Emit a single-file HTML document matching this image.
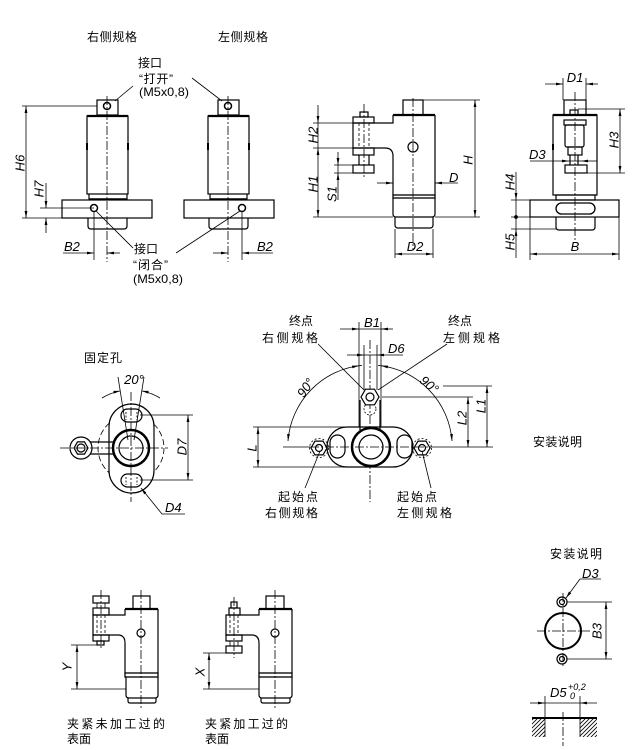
<!DOCTYPE html>
<html><head><meta charset="utf-8">
<style>
html,body{margin:0;padding:0;background:#fff;}
svg{display:block;}
.c{font-family:"Liberation Sans","Noto Sans CJK SC",sans-serif;font-size:12px;fill:#000;stroke:none;}
.l{font-family:"Liberation Sans",sans-serif;font-size:12px;fill:#000;stroke:none;}
.d{font-family:"Liberation Sans",sans-serif;font-style:italic;font-size:13px;fill:#000;stroke:none;}
.s{font-family:"Liberation Sans",sans-serif;font-style:italic;font-size:9px;fill:#000;stroke:none;}
.cl{stroke-dasharray:9 2 2 2;stroke-width:.8;}
.t{stroke-width:.8;}
</style></head><body>
<svg width="637" height="750" viewBox="0 0 637 750" xmlns="http://www.w3.org/2000/svg">
<defs>
<marker id="a" viewBox="0 0 10 10" refX="10" refY="5" markerWidth="7" markerHeight="7" markerUnits="userSpaceOnUse" orient="auto"><path d="M0,3 L10,5 L0,7 z" fill="#000" stroke="none"/></marker>
<pattern id="h" patternUnits="userSpaceOnUse" width="4" height="4"><path d="M-1,1 L1,-1 M0,4 L4,0 M3,5 L5,3" stroke="#000" stroke-width=".8"/></pattern>
</defs>

<!-- ============ TEXT ============ -->
<text class="c" x="87" y="41" textLength="50" lengthAdjust="spacing">右侧规格</text>
<text class="c" x="218" y="41" textLength="50" lengthAdjust="spacing">左侧规格</text>
<text class="c" x="138" y="67">接口</text>
<text class="c" x="139" y="83" textLength="34" lengthAdjust="spacing">“打开”</text>
<text class="l" x="139" y="96" textLength="50" lengthAdjust="spacingAndGlyphs">(M5x0,8)</text>
<text class="c" x="134" y="253">接口</text>
<text class="c" x="133" y="269" textLength="35" lengthAdjust="spacing">“闭合”</text>
<text class="l" x="133" y="283" textLength="50" lengthAdjust="spacingAndGlyphs">(M5x0,8)</text>

<text class="c" x="84" y="362" textLength="38" lengthAdjust="spacing">固定孔</text>
<text class="c" x="289" y="325">终点</text>
<text class="c" x="262" y="342" textLength="56" lengthAdjust="spacing">右侧规格</text>
<text class="c" x="448" y="325">终点</text>
<text class="c" x="443" y="342" textLength="57" lengthAdjust="spacing">左侧规格</text>
<text class="c" x="278" y="501" textLength="40" lengthAdjust="spacing">起始点</text>
<text class="c" x="265" y="517" textLength="53" lengthAdjust="spacing">右侧规格</text>
<text class="c" x="397" y="501" textLength="40" lengthAdjust="spacing">起始点</text>
<text class="c" x="397" y="517" textLength="55" lengthAdjust="spacing">左侧规格</text>
<text class="c" x="533" y="446" textLength="49" lengthAdjust="spacing">安装说明</text>
<text class="c" x="550" y="558" textLength="52" lengthAdjust="spacing">安装说明</text>
<text class="c" x="67" y="728" textLength="98" lengthAdjust="spacing">夹紧未加工过的</text>
<text class="c" x="67" y="743">表面</text>
<text class="c" x="205" y="728" textLength="83" lengthAdjust="spacing">夹紧加工过的</text>
<text class="c" x="205" y="743">表面</text>

<!-- dimension labels -->
<text class="d" text-anchor="middle" x="20" y="167.5" transform="rotate(-90 20 163)">H6</text>
<text class="d" text-anchor="middle" x="39" y="193.5" transform="rotate(-90 39 189)">H7</text>
<text class="d" x="64" y="251">B2</text>
<text class="d" x="257" y="251">B2</text>
<text class="d" text-anchor="middle" x="313" y="139.5" transform="rotate(-90 313 135)">H2</text>
<text class="d" text-anchor="middle" x="313" y="188.5" transform="rotate(-90 313 184)">H1</text>
<text class="d" text-anchor="middle" x="332" y="198.5" transform="rotate(-90 332 194)">S1</text>
<text class="d" text-anchor="middle" x="468" y="164.5" transform="rotate(-90 468 160)">H</text>
<text class="d" x="449" y="182">D</text>
<text class="d" text-anchor="middle" x="415" y="251">D2</text>
<text class="d" text-anchor="middle" x="575" y="82">D1</text>
<text class="d" x="529" y="159">D3</text>
<text class="d" text-anchor="middle" x="614" y="144.5" transform="rotate(-90 614 140)">H3</text>
<text class="d" text-anchor="middle" x="510" y="186.5" transform="rotate(-90 510 182)">H4</text>
<text class="d" text-anchor="middle" x="510" y="246.5" transform="rotate(-90 510 242)">H5</text>
<text class="d" text-anchor="middle" x="575" y="251">B</text>
<text class="d" text-anchor="middle" x="134" y="384">20°</text>
<text class="d" text-anchor="middle" x="182" y="451.5" transform="rotate(-90 182 447)">D7</text>
<text class="d" x="165" y="512">D4</text>
<text class="d" text-anchor="middle" x="372" y="327">B1</text>
<text class="d" x="388" y="353">D6</text>
<text class="d" text-anchor="middle" x="306" y="392" transform="rotate(-55 306 388)">90°</text>
<text class="d" text-anchor="middle" x="429" y="389" transform="rotate(40 429 385)">90°</text>
<text class="d" text-anchor="middle" x="252" y="452.5" transform="rotate(-90 252 448)">L</text>
<text class="d" text-anchor="middle" x="462" y="422.5" transform="rotate(-90 462 418)">L2</text>
<text class="d" text-anchor="middle" x="481" y="410.5" transform="rotate(-90 481 406)">L1</text>
<text class="d" text-anchor="middle" x="67" y="671.5" transform="rotate(-90 67 667)">Y</text>
<text class="d" text-anchor="middle" x="200" y="676.5" transform="rotate(-90 200 672)">X</text>
<text class="d" x="582" y="578">D3</text>
<text class="d" text-anchor="middle" x="597" y="635.5" transform="rotate(-90 597 631)">B3</text>
<text class="d" x="550" y="697">D5</text>
<text class="s" x="568" y="690">+0,2</text>
<text class="s" x="570" y="699">0</text>

<g fill="none" stroke="#000" stroke-width="1.2">
<!-- ============ TOP LEFT (right version) ============ -->
<rect x="97" y="100" width="21" height="15"/>
<circle cx="107" cy="106" r="3.5" stroke-width="1.5"/>
<rect x="87" y="116" width="41" height="78"/>
<line x1="87" y1="116" x2="128" y2="116" stroke-width="2.2"/>
<path d="M87 143v7M128 143v7" stroke-width="2"/>
<path d="M89 194v6M127 194v6"/>
<line x1="89" y1="199" x2="127" y2="199" stroke-width="1.5"/>
<rect x="62" y="200" width="90" height="18"/>
<circle cx="94" cy="208" r="3.5" stroke-width="1.5"/>
<path d="M88 218V226q0 3 3 3H124q3 0 3-3V218"/>
<line class="cl" x1="107" y1="96" x2="107" y2="262"/>
<line class="t" x1="22" y1="106" x2="97" y2="106"/>
<line class="t" x1="22" y1="218" x2="62" y2="218"/>
<line class="t" x1="26" y1="162" x2="26" y2="106" marker-end="url(#a)"/>
<line class="t" x1="26" y1="162" x2="26" y2="218" marker-end="url(#a)"/>
<line class="t" x1="40" y1="208" x2="94" y2="208"/>
<line class="t" x1="46" y1="183" x2="46" y2="208" marker-end="url(#a)"/>
<line class="t" x1="46" y1="233" x2="46" y2="218" marker-end="url(#a)"/>
<line class="t" x1="94" y1="212" x2="94" y2="260"/>
<line class="t" x1="63" y1="253" x2="94" y2="253" marker-end="url(#a)"/>
<line class="t" x1="120" y1="253" x2="107" y2="253" marker-end="url(#a)"/>
<path class="t" d="M115 101L133 86M96 211L133 248"/>

<!-- ============ TOP (left version) ============ -->
<rect x="218" y="100" width="21" height="15"/>
<circle cx="228" cy="106" r="3.5" stroke-width="1.5"/>
<rect x="208" y="116" width="41" height="78"/>
<line x1="208" y1="116" x2="249" y2="116" stroke-width="2.2"/>
<path d="M208 143v7M249 143v7" stroke-width="2"/>
<path d="M210 194v6M247 194v6"/>
<line x1="210" y1="199" x2="247" y2="199" stroke-width="1.5"/>
<rect x="184" y="200" width="90" height="18"/>
<circle cx="242" cy="208" r="3.5" stroke-width="1.5"/>
<path d="M209 218V226q0 3 3 3H245q3 0 3-3V218"/>
<line class="cl" x1="228" y1="96" x2="228" y2="262"/>
<line class="t" x1="242" y1="212" x2="242" y2="260"/>
<line class="t" x1="213" y1="253" x2="228" y2="253" marker-end="url(#a)"/>
<line class="t" x1="273" y1="253" x2="242" y2="253" marker-end="url(#a)"/>
<path class="t" d="M192 78L222 101M240 211L176 253"/>

<!-- ============ TOP MIDDLE (side view) ============ -->
<rect x="403" y="100" width="20" height="15"/>
<line x1="393" y1="115" x2="435" y2="115" stroke-width="2.2"/>
<path d="M393 115V123H353V148H385Q393 148 393 156V195"/>
<path d="M435 115V195"/>
<rect x="353" y="117" width="21" height="6"/>
<rect x="360" y="112" width="8" height="5"/>
<rect x="353" y="148" width="21" height="7"/>
<path d="M359 155V165M369 155V165"/>
<rect x="353" y="165" width="21" height="8"/>
<path class="t" d="M359 123V148M369 123V148" stroke-dasharray="3 2"/>
<line class="cl" x1="364" y1="104" x2="364" y2="178"/>
<circle cx="413" cy="147" r="5"/>
<rect x="393" y="195" width="42" height="3" stroke-width="1.3"/>
<path d="M393 198V214q0 3 3 3H432q3 0 3-3V198"/>
<path d="M395 217V225q0 3 3 3H430q3 0 3-3V217"/>
<line class="cl" x1="413" y1="98" x2="413" y2="250"/>
<line class="t" x1="423" y1="100" x2="480" y2="100"/>
<line class="t" x1="435" y1="217" x2="480" y2="217"/>
<line class="t" x1="475" y1="158" x2="475" y2="100" marker-end="url(#a)"/>
<line class="t" x1="475" y1="158" x2="475" y2="217" marker-end="url(#a)"/>
<line class="t" x1="313" y1="123" x2="353" y2="123"/>
<line class="t" x1="313" y1="148" x2="353" y2="148"/>
<line class="t" x1="313" y1="217" x2="393" y2="217"/>
<line class="t" x1="318" y1="105" x2="318" y2="123" marker-end="url(#a)"/>
<line class="t" x1="318" y1="123" x2="318" y2="148"/>
<line class="t" x1="318" y1="185" x2="318" y2="148" marker-end="url(#a)"/>
<line class="t" x1="318" y1="185" x2="318" y2="217" marker-end="url(#a)"/>
<line class="t" x1="334" y1="165" x2="353" y2="165"/>
<line class="t" x1="334" y1="173" x2="353" y2="173"/>
<line class="t" x1="338" y1="152" x2="338" y2="165" marker-end="url(#a)"/>
<line class="t" x1="338" y1="165" x2="338" y2="173"/>
<line class="t" x1="338" y1="200" x2="338" y2="173" marker-end="url(#a)"/>
<line class="t" x1="377" y1="183" x2="393" y2="183" marker-end="url(#a)"/>
<line class="t" x1="458" y1="183" x2="435" y2="183" marker-end="url(#a)"/>
<line class="t" x1="395" y1="229" x2="395" y2="258"/>
<line class="t" x1="433" y1="229" x2="433" y2="258"/>
<line class="t" x1="414" y1="254" x2="395" y2="254" marker-end="url(#a)"/>
<line class="t" x1="414" y1="254" x2="433" y2="254" marker-end="url(#a)"/>

<!-- ============ TOP RIGHT (front view) ============ -->
<line class="t" x1="563" y1="78" x2="563" y2="100"/>
<line class="t" x1="586" y1="78" x2="586" y2="100"/>
<line class="t" x1="545" y1="84" x2="563" y2="84" marker-end="url(#a)"/>
<line class="t" x1="598" y1="84" x2="586" y2="84" marker-end="url(#a)"/>
<rect x="564" y="100" width="22" height="15"/>
<rect x="553" y="115" width="44" height="80"/>
<line x1="553" y1="115" x2="597" y2="115" stroke-width="2.2"/>
<rect x="570" y="110" width="8" height="5"/>
<rect x="564" y="120" width="22" height="5"/>
<rect x="565" y="125" width="19" height="22" rx="2"/>
<rect x="568" y="147" width="14" height="8"/>
<path d="M570 155V165M578 155V165"/>
<rect x="565" y="165" width="22" height="8"/>
<path d="M553 144v6" stroke-width="2"/>
<line class="cl" x1="575" y1="92" x2="575" y2="242"/>
<line class="t" x1="578" y1="109" x2="625" y2="109"/>
<line class="t" x1="587" y1="173" x2="625" y2="173"/>
<line class="t" x1="620" y1="141" x2="620" y2="109" marker-end="url(#a)"/>
<line class="t" x1="620" y1="141" x2="620" y2="173" marker-end="url(#a)"/>
<line class="t" x1="530" y1="161" x2="569" y2="161" marker-end="url(#a)"/>
<line class="t" x1="569" y1="161" x2="581" y2="161"/>
<line class="t" x1="597" y1="161" x2="581" y2="161" marker-end="url(#a)"/>
<rect x="556" y="195" width="39" height="5"/>
<rect x="530" y="200" width="89" height="17"/>
<rect x="556" y="203" width="39" height="11" rx="5.5" stroke-width="1.3"/>
<path d="M556 217V227q0 3 3 3H592q3 0 3-3V217"/>
<line class="t" x1="511" y1="200" x2="530" y2="200"/>
<line class="t" x1="511" y1="217" x2="530" y2="217"/>
<line class="t" x1="511" y1="229" x2="556" y2="229"/>
<line class="t" x1="516" y1="172" x2="516" y2="200" marker-end="url(#a)"/>
<line class="t" x1="516" y1="200" x2="516" y2="229"/>
<line class="t" x1="516" y1="258" x2="516" y2="229" marker-end="url(#a)"/>
<circle cx="516" cy="217" r="1.3" fill="#000"/>
<line class="t" x1="530" y1="217" x2="530" y2="260"/>
<line class="t" x1="619" y1="217" x2="619" y2="260"/>
<line class="t" x1="575" y1="254" x2="530" y2="254" marker-end="url(#a)"/>
<line class="t" x1="575" y1="254" x2="619" y2="254" marker-end="url(#a)"/>

<!-- ============ MIDDLE LEFT (fixing holes) ============ -->
<circle class="t" cx="131" cy="448" r="33" stroke-dasharray="6 3"/>
<rect x="109" y="404" width="45" height="89" rx="22.5" fill="#fff"/>
<rect x="121" y="409" width="21" height="13" rx="6.5"/>
<rect x="121" y="474" width="21" height="13" rx="6.5"/>
<path class="t" d="M126 412V420M137 412V420M126 477V485M137 477V485" stroke-dasharray="2 1.5"/>
<circle cx="131" cy="448" r="18" stroke-width="2.5"/>
<circle cx="131" cy="448" r="12"/>
<path d="M90 442H113M90 454H113"/>
<circle cx="81" cy="448" r="11"/>
<polygon points="88,448 84.5,441.9 77.5,441.9 74,448 77.5,454.1 84.5,454.1"/>
<circle cx="81" cy="448" r="4"/>
<line class="cl" x1="60" y1="448" x2="168" y2="448"/>
<line class="cl" x1="131" y1="392" x2="131" y2="502"/>
<path class="t" d="M128 440L118 377M134 440L144 377"/>
<path class="t" d="M102 398 A58 58 0 0 1 120.4 390.9" marker-end="url(#a)"/>
<path class="t" d="M160 398 A58 58 0 0 0 141.6 390.9" marker-end="url(#a)"/>
<line class="t" x1="140" y1="415" x2="193" y2="415"/>
<line class="t" x1="140" y1="480" x2="193" y2="480"/>
<line class="t" x1="188" y1="447" x2="188" y2="415" marker-end="url(#a)"/>
<line class="t" x1="188" y1="447" x2="188" y2="480" marker-end="url(#a)"/>
<path class="t" d="M185 514H162L141 488" marker-end="url(#a)"/>

<!-- ============ MIDDLE CENTER ============ -->
<line class="t" x1="359" y1="322" x2="359" y2="432"/>
<line class="t" x1="381" y1="322" x2="381" y2="432"/>
<line class="t" x1="340" y1="329" x2="359" y2="329" marker-end="url(#a)"/>
<line class="t" x1="359" y1="329" x2="381" y2="329"/>
<line class="t" x1="393" y1="329" x2="381" y2="329" marker-end="url(#a)"/>
<line class="t" x1="364" y1="345" x2="364" y2="390"/>
<line class="t" x1="377" y1="345" x2="377" y2="390"/>
<line class="t" x1="347" y1="355" x2="364" y2="355" marker-end="url(#a)"/>
<line class="t" x1="364" y1="355" x2="377" y2="355"/>
<line class="t" x1="403" y1="355" x2="377" y2="355" marker-end="url(#a)"/>
<line class="cl" x1="370" y1="340" x2="370" y2="502"/>
<!-- arcs -->
<path class="t" d="M362 365.4 A82 82 0 0 0 288 441" marker-end="url(#a)"/>
<path class="t" d="M378 365.4 A82 82 0 0 1 452 441" marker-end="url(#a)"/>
<line class="t" x1="352" y1="367" x2="359" y2="365.6" marker-end="url(#a)"/>
<line class="t" x1="388" y1="367" x2="381" y2="365.6" marker-end="url(#a)"/>
<!-- body -->
<rect x="327" y="427" width="86" height="40" rx="20" fill="#fff"/>
<path d="M360 400V432M380 400V432"/>
<rect x="330" y="435" width="15" height="23" rx="7.5"/>
<rect x="397" y="435" width="15" height="23" rx="7.5"/>
<circle cx="371" cy="447" r="19" stroke-width="2.5" fill="#fff"/>
<circle cx="371" cy="447" r="12"/>
<circle class="t" cx="370" cy="409" r="6" stroke-dasharray="2 1.5"/>
<polygon points="379,397 374.5,389.2 365.5,389.2 361,397 365.5,404.8 374.5,404.8" fill="#fff"/>
<circle cx="370" cy="397" r="4"/>
<polygon points="327,448 323,441.1 315,441.1 311,448 315,454.9 323,454.9"/>
<circle cx="319" cy="448" r="3.5"/>
<circle class="t" cx="319" cy="448" r="9.5" stroke-dasharray="2 2"/>
<polygon points="430,448 426,441.1 418,441.1 414,448 418,454.9 426,454.9"/>
<circle cx="422" cy="448" r="3.5"/>
<circle class="t" cx="422" cy="448" r="9.5" stroke-dasharray="2 2"/>
<line class="t" x1="283" y1="447" x2="310" y2="447"/>
<line class="cl" x1="310" y1="447" x2="432" y2="447"/>
<line class="t" x1="432" y1="447" x2="493" y2="447"/>
<!-- L -->
<line class="t" x1="253" y1="427" x2="345" y2="427"/>
<line class="t" x1="253" y1="467" x2="371" y2="467"/>
<line class="t" x1="258" y1="447" x2="258" y2="427" marker-end="url(#a)"/>
<line class="t" x1="258" y1="447" x2="258" y2="467" marker-end="url(#a)"/>
<!-- L1 L2 -->
<line class="t" x1="382" y1="397" x2="473" y2="397"/>
<line class="t" x1="443" y1="386" x2="492" y2="386"/>
<line class="t" x1="468" y1="420" x2="468" y2="397" marker-end="url(#a)"/>
<line class="t" x1="468" y1="420" x2="468" y2="447" marker-end="url(#a)"/>
<line class="t" x1="487" y1="415" x2="487" y2="386" marker-end="url(#a)"/>
<line class="t" x1="487" y1="415" x2="487" y2="447" marker-end="url(#a)"/>
<!-- leaders -->
<path class="t" d="M318 344L364 390M447 344L378 390M320 451L305 488M422 451L431 488"/>

<!-- ============ BOTTOM LEFT (unmachined) ============ -->
<rect x="133" y="596" width="17" height="13"/>
<line x1="125" y1="609" x2="158" y2="609" stroke-width="2.2"/>
<path d="M125 609V615H93V635H118Q125 635 125 643V673"/>
<path d="M158 609V673"/>
<rect x="93" y="596" width="16" height="7"/>
<rect x="93" y="608" width="16" height="7"/>
<rect x="93" y="635" width="16" height="6"/>
<rect x="97" y="641" width="7" height="4"/>
<path class="t" d="M97 603V608M105 603V608"/>
<path class="t" d="M97 615V635M105 615V635" stroke-dasharray="3 2"/>
<line class="cl" x1="101" y1="590" x2="101" y2="650"/>
<circle cx="141" cy="633" r="4"/>
<rect x="125" y="673" width="33" height="4" stroke-width="1.3"/>
<path d="M126 677V695q0 3 3 3H155q3 0 3-3V677"/>
<path d="M128 698V701q0 2 2 2H154q2 0 2-2V698"/>
<line class="cl" x1="141" y1="590" x2="141" y2="708"/>
<line class="t" x1="71" y1="645" x2="101" y2="645"/>
<line class="t" x1="71" y1="689" x2="126" y2="689"/>
<line class="t" x1="77" y1="667" x2="77" y2="645" marker-end="url(#a)"/>
<line class="t" x1="77" y1="667" x2="77" y2="689" marker-end="url(#a)"/>

<!-- ============ BOTTOM (machined) ============ -->
<rect x="266" y="596" width="18" height="13"/>
<line x1="259" y1="609" x2="292" y2="609" stroke-width="2.2"/>
<path d="M259 609V615H226V635H252Q259 635 259 643V673"/>
<path d="M292 609V673"/>
<rect x="229" y="608" width="11" height="7"/>
<rect x="231" y="602" width="6" height="6"/>
<rect x="226" y="635" width="16" height="6"/>
<rect x="226" y="646" width="16" height="7"/>
<path class="t" d="M230 641V646M238 641V646"/>
<path class="t" d="M230 615V635M238 615V635" stroke-dasharray="3 2"/>
<line class="cl" x1="234" y1="597" x2="234" y2="658"/>
<circle cx="275" cy="633" r="4"/>
<rect x="259" y="673" width="33" height="4" stroke-width="1.3"/>
<path d="M259 677V695q0 3 3 3H289q3 0 3-3V677"/>
<path d="M261 698V701q0 2 2 2H288q2 0 2-2V698"/>
<line class="cl" x1="275" y1="590" x2="275" y2="708"/>
<line class="t" x1="203" y1="653" x2="226" y2="653"/>
<line class="t" x1="203" y1="689" x2="259" y2="689"/>
<line class="t" x1="209" y1="671" x2="209" y2="653" marker-end="url(#a)"/>
<line class="t" x1="209" y1="671" x2="209" y2="689" marker-end="url(#a)"/>

<!-- ============ BOTTOM RIGHT (installation) ============ -->
<line class="t" x1="580" y1="579" x2="601" y2="579"/>
<line class="t" x1="580" y1="579" x2="566" y2="598" marker-end="url(#a)"/>
<circle cx="562" cy="602" r="5"/>
<circle cx="562" cy="602" r="2.5"/>
<circle cx="562" cy="659" r="5"/>
<circle cx="562" cy="659" r="2.5"/>
<circle cx="563" cy="631" r="18" stroke-width="2"/>
<line class="cl" x1="537" y1="631" x2="590" y2="631"/>
<line class="cl" x1="563" y1="593" x2="563" y2="668"/>
<line class="t" x1="567" y1="602" x2="612" y2="602"/>
<line class="t" x1="567" y1="659" x2="612" y2="659"/>
<line class="t" x1="606" y1="631" x2="606" y2="602" marker-end="url(#a)"/>
<line class="t" x1="606" y1="631" x2="606" y2="659" marker-end="url(#a)"/>
<line class="t" x1="530" y1="703" x2="545" y2="703" marker-end="url(#a)"/>
<line class="t" x1="545" y1="703" x2="580" y2="703"/>
<line class="t" x1="597" y1="703" x2="580" y2="703" marker-end="url(#a)"/>
<line class="t" x1="545" y1="696" x2="545" y2="737"/>
<line class="t" x1="580" y1="696" x2="580" y2="737"/>
<rect x="532" y="718" width="13" height="19" fill="url(#h)" stroke="none"/>
<rect x="580" y="718" width="17" height="19" fill="url(#h)" stroke="none"/>
<line x1="532" y1="718" x2="597" y2="718" stroke-width="2"/>
<line class="cl" x1="563" y1="712" x2="563" y2="746"/>
</g>
</svg>
</body></html>
